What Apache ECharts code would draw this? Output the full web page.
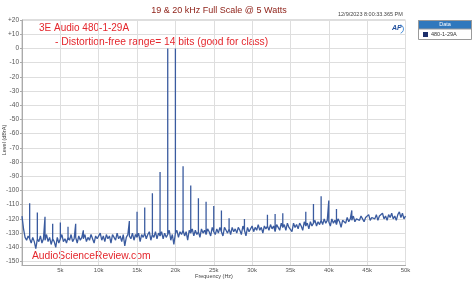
<!DOCTYPE html>
<html><head><meta charset="utf-8">
<script src="https://cdn.jsdelivr.net/npm/echarts@6/dist/echarts.min.js"></script>
<style>html,body{margin:0;padding:0;background:#fff}#c{width:474px;height:281px}</style>
</head><body><div id="c"></div>
<script>
// ---- data ----
const seriesName = '480-1-29A';
const xAxisName = 'Frequency (Hz)';
const yAxisName = 'Level (dBrA)';
const noiseStepHz = 200;
const noiseLevels = [
  -118,-127,-133,-135,-132,-134,-137,-133,-136,-141,
  -134,-136,-132,-137,-134,-135,-131,-136,-133,-138,
  -134,-136,-140,-133,-137,-134,-131,-136,-134,-137,
  -133,-135,-131,-136,-134,-133,-137,-132,-135,-133,
  -134,-131,-136,-133,-135,-131,-134,-137,-132,-134,
  -133,-130,-135,-132,-136,-131,-134,-132,-137,-131,
  -133,-135,-130,-134,-132,-136,-131,-139,-133,-131,
  -132,-134,-130,-135,-131,-133,-130,-136,-131,-133,
  -130,-134,-131,-129,-135,-131,-133,-129,-134,-130,
  -132,-129,-134,-130,-133,-131,-128,-135,-131,-138,
  -130,-128,-133,-129,-131,-128,-132,-129,-135,-128,
  -130,-127,-132,-128,-131,-129,-133,-127,-130,-128,
  -131,-127,-129,-132,-126,-129,-131,-127,-130,-126,
  -129,-132,-126,-128,-130,-127,-131,-126,-129,-127,
  -130,-126,-128,-131,-125,-128,-132,-126,-129,-127,
  -125,-129,-126,-128,-124,-128,-126,-130,-125,-127,
  -125,-128,-124,-127,-125,-129,-124,-126,-128,-123,
  -126,-124,-128,-123,-126,-125,-129,-123,-126,-124,
  -127,-123,-125,-128,-122,-125,-123,-127,-122,-125,
  -123,-121,-125,-122,-124,-121,-124,-120,-123,-121,
  -122,-125,-120,-123,-121,-124,-120,-122,-126,-121,
  -120,-123,-119,-122,-120,-121,-118,-122,-120,-119,
  -121,-118,-120,-122,-119,-120,-117,-121,-119,-118,
  -120,-117,-121,-118,-119,-116,-120,-118,-121,-117,
  -119,-116,-120,-118,-121,-117,-115,-119,-116,-120,
  -118
];
const spikeFreqs  = [1000,2000,3000,4000,5000,6000,7000,8000,14000,15000,16000,17000,18000,19000,20000,21000,22000,23000,24000,25000,26000,27000,29000,32000,33000,34000,37000,38000,39000,40000,41000,43000];
const spikeLevels = [-109,-115.5,-118.5,-123.5,-122.5,-125.5,-123.5,-128,-121.5,-115,-112,-102,-87,0,0,-83,-96.5,-105.5,-108,-111,-114,-119.5,-120,-117,-116.5,-116,-115,-109.5,-104,-107,-113,-114];
const xTickValues = [0,5000,10000,15000,20000,25000,30000,35000,40000,45000,50000];
const xTickLabels = ['','5k','10k','15k','20k','25k','30k','35k','40k','45k','50k'];
const yTickValues = [20,10,0,-10,-20,-30,-40,-50,-60,-70,-80,-90,-100,-110,-120,-130,-140,-150];
const yTickLabels = ['+20','+10','0','-10','-20','-30','-40','-50','-60','-70','-80','-90','-100','-110','-120','-130','-140','-150'];

// ---- build series ----
const data = [];
noiseLevels.forEach((lv, i) => {
  const f = i * noiseStepHz;
  const k = spikeFreqs.indexOf(f);
  if (k >= 0) data.push([f, lv], [f, spikeLevels[k]], [f, lv]);
  else data.push([f, lv]);
});

const FF = 'Liberation Sans, Arial, sans-serif';
const chart = echarts.init(document.getElementById('c'));
const lab = '#555';
chart.setOption({
  animation: false,
  backgroundColor: '#fff',
  textStyle: { fontFamily: FF },
  title: {
    text: '19 & 20 kHz Full Scale @ 5 Watts',
    left: 214, top: 1, textAlign: 'center',
    textStyle: { fontSize: 9, fontWeight: 'normal', color: '#8c1c13', fontFamily: FF }
  },
  legend: {
    data: [{ name: seriesName, itemStyle: { color: '#1c2f6b' } }],
    left: 423, top: 31.5, icon: 'rect', itemWidth: 5, itemHeight: 5, itemGap: 2, padding: 0,
    textStyle: { fontSize: 5.5, color: '#333', padding: [0, 0, 0, -2] }
  },
  grid: [
    { left: 22, right: 68.5, top: 20, bottom: 15.5, show: true, borderColor: '#bdbdbd', borderWidth: 1, containLabel: false, outerBoundsMode: 'none' },
    { left: 22, right: 68.5, top: 20, bottom: 19.5, show: false, containLabel: false, outerBoundsMode: 'none' }
  ],
  xAxis: [
    {
      type: 'value', gridIndex: 0, position: 'bottom', min: 0, max: 50000, interval: 5000,
      axisLine: { show: true, onZero: false, lineStyle: { color: '#aaa' } },
      axisTick: { show: false },
      axisLabel: { fontSize: 6, color: lab, margin: 2,
        formatter: v => xTickLabels[xTickValues.indexOf(v)] },
      splitLine: { show: true, lineStyle: { color: '#dedede', width: 1 } }
    },
    { type: 'value', gridIndex: 1, position: 'bottom', min: 0, max: 1, show: false }
  ],
  yAxis: [
    {
      type: 'value', gridIndex: 0, position: 'left', min: -152.8, max: 20,
      axisLine: { show: true, onZero: false, lineStyle: { color: '#aaa' } },
      axisTick: { show: false }, axisLabel: { show: false }, splitLine: { show: false }
    },
    {
      type: 'value', gridIndex: 1, position: 'left', min: -150, max: 20, interval: 10,
      axisLine: { show: false, onZero: false },
      axisTick: { show: true, length: 2, lineStyle: { color: '#aaa' } },
      axisLabel: { fontSize: 6.5, color: lab, margin: 3,
        formatter: v => yTickLabels[yTickValues.indexOf(v)] },
      splitLine: { show: true, lineStyle: { color: '#dedede', width: 1 } }
    }
  ],
  series: [{
    name: seriesName, type: 'line', xAxisIndex: 0, yAxisIndex: 0,
    data: data, showSymbol: false, symbol: 'none',
    lineStyle: { color: '#3a5b9f', width: 1.3 }, itemStyle: { color: '#3a5b9f' }
  }],
  graphic: [
    { type: 'text', x: 214, y: 276.5, style: { text: xAxisName, fontSize: 5.5, fill: '#444', align: 'center', verticalAlign: 'middle', fontFamily: FF } },
    { type: 'text', x: 4.5, y: 140, rotation: Math.PI / 2, style: { text: yAxisName, fontSize: 5.5, fill: '#444', align: 'center', verticalAlign: 'middle', fontFamily: FF } },
    { type: 'text', left: 338, top: 11.5, style: { text: '12/9/2023 8:00:33.365 PM', fontSize: 5.5, fill: '#444', fontFamily: FF } },
    { type: 'text', left: 392, top: 25, style: { text: 'AP', fontSize: 7, fontWeight: 'bold', fontStyle: 'italic', fill: '#1f4e9c', fontFamily: FF } },
    { type: 'arc', shape: { cx: 399, cy: 29, r: 4.5, startAngle: -1.2, endAngle: 1.2 }, style: { stroke: '#4a90d9', lineWidth: 1, fill: null } },
    { type: 'rect', shape: { x: 418.5, y: 20.5, width: 53, height: 19 }, style: { fill: '#fff', stroke: '#9a9a9a', lineWidth: 1 } },
    { type: 'rect', shape: { x: 418.5, y: 20.5, width: 53, height: 8.5 }, style: { fill: '#2f78bd', stroke: '#9a9a9a', lineWidth: 1 } },
    { type: 'text', x: 445, y: 24.8, style: { text: 'Data', fontSize: 5.5, fill: '#fff', align: 'center', verticalAlign: 'middle', fontFamily: FF } },
    { type: 'text', x: 39, y: 28.5, style: { text: '3E Audio 480-1-29A', fontSize: 10, fill: '#e4262c', verticalAlign: 'middle', fontFamily: FF } },
    { type: 'text', x: 55, y: 42.5, style: { text: '- Distortion-free range= 14 bits (good for class)', fontSize: 10.3, fill: '#e4262c', verticalAlign: 'middle', fontFamily: FF } },
    { type: 'text', x: 32, y: 256.5, style: { text: 'AudioScienceReview.com', fontSize: 10.3, fill: '#e4262c', verticalAlign: 'middle', fontFamily: FF } }
  ]
});
</script></body></html>
